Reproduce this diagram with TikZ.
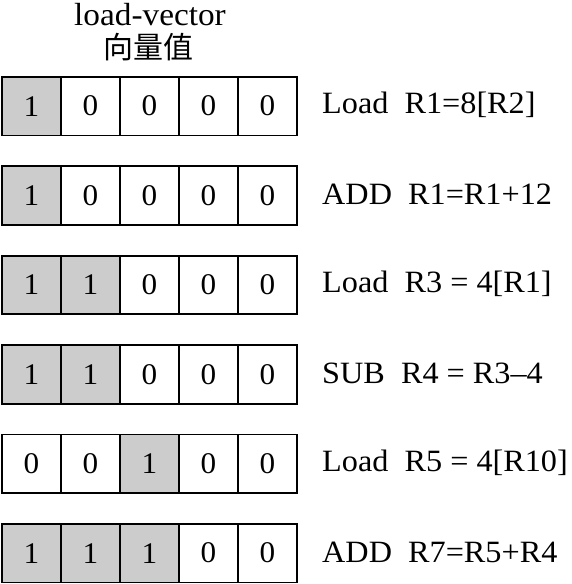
\documentclass[tikz,border=0pt]{standalone}
\usepackage{fontspec}
\setmainfont[FakeStretch=1.04]{Liberation Serif}
\newfontfamily\cjk{Noto Sans CJK SC}
\begin{document}
\begin{tikzpicture}[x=1pt,y=-1pt,
  cell/.style={draw,line width=1.8pt,minimum width=59pt,minimum height=58.5pt,inner sep=0pt,anchor=north west,font=\fontsize{30}{32}\selectfont},
  on/.style={cell,fill=black!20},
  off/.style={cell,fill=white},
  instr/.style={anchor=west,inner sep=0pt,font=\fontsize{31}{33}\selectfont},
  title/.style={inner sep=0pt,font=\fontsize{32}{34}\selectfont}]
\useasboundingbox (0,0) rectangle (572,584);
\node[title] (t1) at (150,15) {load-vector};
\node[title,font=\fontsize{30}{32}\selectfont] (t2) at (148,47) {\cjk 向量值};
\foreach \r/\bits/\txt in {
  1/{1,0,0,0,0}/{Load\ \ R1=8[R2]},
  2/{1,0,0,0,0}/{ADD\ \ R1=R1+12},
  3/{1,1,0,0,0}/{Load\ \ R3 = 4[R1]},
  4/{1,1,0,0,0}/{SUB\ \ R4 = R3–4},
  5/{0,0,1,0,0}/{Load\ \ R5 = 4[R10]},
  6/{1,1,1,0,0}/{ADD\ \ R7=R5+R4}}{
  \pgfmathsetmacro\top{76+(\r-1)*89.4}
  \foreach \b [count=\i] in \bits {
    \ifnum\b=1
      \node[on] (c\r-\i) at ({1+(\i-1)*59},\top) {\b};
    \else
      \node[off] (c\r-\i) at ({1+(\i-1)*59},\top) {\b};
    \fi
  }
  \node[instr] (ins\r) at (322,{\top+29.25}) {\txt};
}
\end{tikzpicture}
\end{document}
